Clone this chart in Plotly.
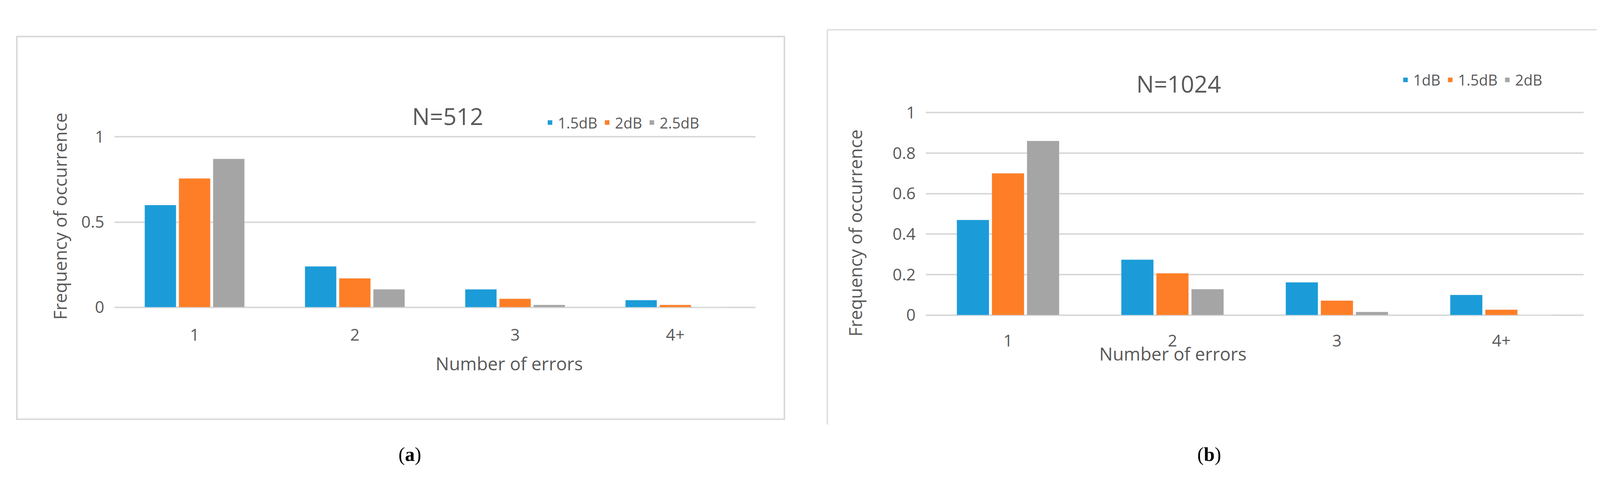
import plotly.graph_objects as go

W, H = 4150, 1257

categories = ["1", "2", "3", "4+"]

# panel (a), N=512
a_names = ["1.5dB", "2dB", "2.5dB"]
a_values = [
    [0.60, 0.24, 0.105, 0.042],
    [0.756, 0.17, 0.05, 0.014],
    [0.871, 0.105, 0.014, 0.0],
]

# panel (b), N=1024
b_names = ["1dB", "1.5dB", "2dB"]
b_values = [
    [0.47, 0.274, 0.162, 0.10],
    [0.70, 0.207, 0.072, 0.027],
    [0.86, 0.128, 0.016, 0.0],
]

colors = ["#1B9CD8", "#FD7E26", "#A5A5A5"]
FONT = "Open Sans"
TXT = "#595959"
GRID = "#D9D9D9"


def px_x(p):
    return p / W


def px_y(p):
    return 1 - p / H


def y_domain(p0, p1, r0, r1):
    # p0 = pixel row of value 0, p1 = pixel row of value 1
    per = (p0 - p1)
    bottom = p0 + r0 * per * -1
    top = p1 - (r1 - 1) * per
    return [px_y(bottom), px_y(top)]


fig = go.Figure()
for i in range(3):
    fig.add_trace(go.Bar(x=categories, y=a_values[i], name=a_names[i],
                         marker_color=colors[i], xaxis="x", yaxis="y",
                         legend="legend"))
for i in range(3):
    fig.add_trace(go.Bar(x=categories, y=b_values[i], name=b_names[i],
                         marker_color=colors[i], xaxis="x2", yaxis="y2",
                         legend="legend2"))

axis_common = dict(showline=False, ticks="", tickfont=dict(size=42, color=TXT, family=FONT))

fig.update_layout(
    width=W, height=H,
    margin=dict(l=0, r=0, t=0, b=0),
    paper_bgcolor="white", plot_bgcolor="white",
    barmode="group", bargap=0.36, bargroupgap=0.08,
    font=dict(family=FONT, color=TXT),
    xaxis=dict(domain=[px_x(285), px_x(1926)], anchor="y", showgrid=False,
               zeroline=False, ticklabelstandoff=40, **axis_common),
    yaxis=dict(domain=y_domain(783, 328, -0.005, 1.005), range=[-0.005, 1.005],
               anchor="x", tickvals=[0, 0.5, 1], ticktext=["0", "0.5", "1"],
               showgrid=True, gridcolor=GRID, gridwidth=4, zeroline=True,
               zerolinecolor=GRID, zerolinewidth=4, ticklabelstandoff=25,
               **axis_common),
    xaxis2=dict(domain=[px_x(2362), px_x(4046)], anchor="y2", showgrid=False,
                zeroline=False, ticklabelstandoff=35, **axis_common),
    yaxis2=dict(domain=y_domain(804, 263, -0.005, 1.005), range=[-0.005, 1.005],
                anchor="x2", tickvals=[0, 0.2, 0.4, 0.6, 0.8, 1],
                ticktext=["0", "0.2", "0.4", "0.6", "0.8", "1"],
                showgrid=True, gridcolor=GRID, gridwidth=4, zeroline=True,
                zerolinecolor=GRID, zerolinewidth=4, ticklabelstandoff=25,
                **axis_common),
    legend=dict(orientation="h", x=px_x(1380), xanchor="left", y=px_y(290),
                yanchor="middle", font=dict(size=38, color=TXT, family=FONT),
                itemwidth=30, bgcolor="rgba(0,0,0,0)", traceorder="normal"),
    legend2=dict(orientation="h", x=px_x(3570), xanchor="left", y=px_y(176),
                 yanchor="middle", font=dict(size=38, color=TXT, family=FONT),
                 itemwidth=30, bgcolor="rgba(0,0,0,0)", traceorder="normal"),
)

# chart frames
fig.add_shape(type="rect", xref="paper", yref="paper",
              x0=px_x(35), x1=px_x(2000), y0=px_y(1082), y1=px_y(60),
              line=dict(color=GRID, width=4))
fig.add_shape(type="line", xref="paper", yref="paper",
              x0=px_x(2110), x1=px_x(2110), y0=px_y(1096), y1=px_y(42),
              line=dict(color=GRID, width=3))
fig.add_shape(type="line", xref="paper", yref="paper",
              x0=px_x(2110), x1=1, y0=px_y(42), y1=px_y(42),
              line=dict(color=GRID, width=3))

texts = [
    ("N=512", 1045, 227, 60, 0),
    ("N=1024", 3120, 141, 60, 0),
    ("Number of errors", 1105, 967, 46, 0),
    ("Number of errors", 3185, 941, 46, 0),
    ("Frequency of occurrence", 112, 540, 46, -90),
    ("Frequency of occurrence", 2181, 585, 46, -90),
]
for t, x, y, s, ang in texts:
    fig.add_annotation(text=t, x=px_x(x), y=px_y(y), xref="paper", yref="paper",
                       showarrow=False, textangle=ang,
                       font=dict(size=s, color=TXT, family=FONT))

for t, x in [("(<b>a</b>)", 1010), ("(<b>b</b>)", 3120)]:
    fig.add_annotation(text=t, x=px_x(x), y=px_y(1207), xref="paper", yref="paper",
                       showarrow=False,
                       font=dict(size=50, color="black", family="Liberation Serif"))

fig.write_html("out.html")
